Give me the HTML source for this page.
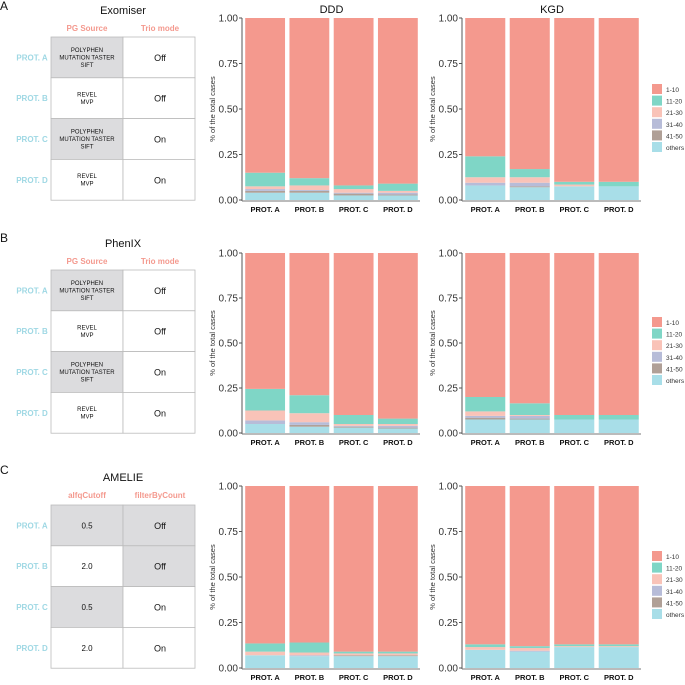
<!DOCTYPE html>
<html><head><meta charset="utf-8">
<style>
body{margin:0;background:#fff;font-family:"Liberation Sans",sans-serif;}
svg text{font-family:"Liberation Sans",sans-serif;}
</style></head>
<body>
<svg id="root" width="685" height="680" viewBox="0 0 685 680" xmlns="http://www.w3.org/2000/svg"></svg>
<script>
const categories = ["PROT. A","PROT. B","PROT. C","PROT. D"];
const seriesNames = ["others","41-50","31-40","21-30","11-20","1-10"];
const legendLabels = ["1-10","11-20","21-30","31-40","41-50","others"];
const yTicks = [0,0.25,0.5,0.75,1.0];
const yTickLabels = ["0.00","0.25","0.50","0.75","1.00"];
// values per bar: [others, 41-50, 31-40, 21-30, 11-20]; 1-10 fills remainder to 1
const exoDDD = [[0.04,0.01,0.01,0.015,0.075],[0.04,0.01,0.005,0.025,0.04],[0.025,0.01,0.005,0.02,0.02],[0.025,0.005,0.01,0.01,0.04]];
const exoKGD = [[0.08,0,0.015,0.03,0.115],[0.07,0.005,0.02,0.03,0.045],[0.075,0,0,0.01,0.015],[0.075,0,0,0,0.025]];
const phenDDD = [[0.05,0,0.02,0.055,0.12],[0.035,0.01,0.015,0.05,0.1],[0.03,0.005,0.005,0.01,0.05],[0.025,0.005,0.01,0.01,0.03]];
const phenKGD = [[0.075,0.01,0.01,0.025,0.08],[0.075,0.005,0.015,0.005,0.065],[0.075,0,0,0,0.025],[0.075,0,0,0,0.025]];
const amDDD = [[0.07,0,0,0.02,0.045],[0.065,0,0.005,0.015,0.055],[0.065,0.005,0,0.01,0.01],[0.065,0.005,0,0.01,0.01]];
const amKGD = [[0.10,0,0,0.015,0.015],[0.09,0,0.005,0.015,0.01],[0.115,0,0,0.005,0.01],[0.115,0,0,0.005,0.01]];
const colors = {"1-10":"#F4998E","11-20":"#7FD6C6","21-30":"#F9C3B8","31-40":"#B7BCD8","41-50":"#B0A097","others":"#A8DEE8"};

const NS="http://www.w3.org/2000/svg";
const root=document.getElementById('root');
function mk(tag,attrs,parent){const e=document.createElementNS(NS,tag);for(const k in attrs)e.setAttribute(k,attrs[k]);(parent||root).appendChild(e);return e;}
function txt(s,x,y,size,fill,anchor,parent,extra){const t=mk('text',Object.assign({x:x,y:y,'font-size':size,fill:fill,'text-anchor':anchor||'middle'},extra||{}),parent);t.textContent=s;return t;}

function chart(name,data,x0,x1,yTop,yBot,title){
  const g=mk('g',{});
  
  
  const yS=v=>yBot-(yBot-yTop)*v;
  const band=(x1-x0)/categories.length;
  const xS=i=>x0+band*i+band*0.05;
  const bw=band*0.9;
  if(title){const tt=txt(title,(x0+x1)/2,13,11,'#111','middle',g);}
  data.forEach((vals,i)=>{
    let cum=0;
    const full=vals.concat([1-vals.reduce((a,b)=>a+b,0)]);
    full.forEach((v,j)=>{
      if(v<=0){return;}
      const r=mk('rect',{x:xS(i),y:yS(cum+v),width:bw,height:yS(cum)-yS(cum+v),fill:colors[seriesNames[j]]},g);
      
      
      cum+=v;
    });
    const cl=txt(categories[i],xS(i)+bw/2,yBot+12,7.5,'#111','middle',g,{'font-weight':'bold'});
    
    
  });
  mk('line',{x1:x0-1,y1:yTop,x2:x0-1,y2:yBot+1,stroke:'#555','stroke-width':1},g);
  mk('line',{x1:x0-1,y1:yBot+1,x2:x1,y2:yBot+1,stroke:'#777','stroke-width':1},g);
  yTicks.forEach((t,k)=>{
    mk('line',{x1:x0-4,y1:yS(t),x2:x0-1,y2:yS(t),stroke:'#555'},g);
    const l=txt(yTickLabels[k],x0-5,yS(t)+3.5,10,'#333','end',g);
    
    
  });
  const cy=(yTop+yBot)/2;
  const at=txt('% of the total cases',x0-28,cy,7.5,'#333','middle',g,{transform:'rotate(-90 '+(x0-28)+' '+cy+')'});
  
  
}

function legend(y0){
  const g=mk('g',{});
  
  
  legendLabels.forEach((l,i)=>{
    const e=mk('g',{},g);
    
    
    mk('rect',{x:652,y:y0+i*11.6,width:10,height:10,fill:colors[l]},e);
    txt(l,666,y0+i*11.6+8,6.5,'#333','start',e);
  });
}

function table(name,letter,ly,title,ty,h1,h2,rows,shade,top){
  const g=mk('g',{});
  
  
  const L=txt(letter,0,ly+10,12,'#111','start',g);
  
  const T=txt(title,123,ty,11,'#111','middle',g);
  
  txt(h1,87,ty+17,8,'#F4998E','middle',g,{'font-weight':'bold'});
  txt(h2,160,ty+17,8,'#F4998E','middle',g,{'font-weight':'bold'});
  const rh=40.8,x0=51,xm=123,x1=195;
  rows.forEach((r,i)=>{
    const y=top+i*rh;
    mk('rect',{x:x0,y:y,width:xm-x0,height:rh,fill:shade[i][0]?'#DCDCDE':'#fff',stroke:'#bbb','stroke-width':0.8},g);
    mk('rect',{x:xm,y:y,width:x1-xm,height:rh,fill:shade[i][1]?'#DCDCDE':'#fff',stroke:'#bbb','stroke-width':0.8},g);
    const rl=txt(categories[i],32,y+rh/2+3,8,'#9FD8E4','middle',g,{'font-weight':'bold'});
    
    const lines=r[0].split('|');
    const fs=lines.length>1?6:8;
    lines.forEach((ln,k)=>txt(ln,87,y+rh/2+fs/2-1+(k-(lines.length-1)/2)*7.5,fs,'#111','middle',g));
    txt(r[1],160,y+rh/2+3.5,9,'#111','middle',g);
  });
}

const pg=[["POLYPHEN|MUTATION TASTER|SIFT","Off"],["REVEL|MVP","Off"],["POLYPHEN|MUTATION TASTER|SIFT","On"],["REVEL|MVP","On"]];
const pgShade=[[1,0],[0,0],[1,0],[0,0]];
table('exomiser-table','A',0,'Exomiser',14,'PG Source','Trio mode',pg,pgShade,37);
table('phenix-table','B',232,'PhenIX',247,'PG Source','Trio mode',pg,pgShade,270);
table('amelie-table','C',464,'AMELIE',481,'alfqCutoff','filterByCount',[["0.5","Off"],["2.0","Off"],["0.5","On"],["2.0","On"]],[[1,1],[0,1],[1,0],[0,0]],505);

chart('exomiser-ddd-chart',exoDDD,243,420,18,200,'DDD');
chart('exomiser-kgd-chart',exoKGD,463,641,18,200,'KGD');
chart('phenix-ddd-chart',phenDDD,243,420,253,433,null);
chart('phenix-kgd-chart',phenKGD,463,641,253,433,null);
chart('amelie-ddd-chart',amDDD,243,420,486,668,null);
chart('amelie-kgd-chart',amKGD,463,641,486,668,null);
legend(84);legend(317);legend(551);
</script>
</body></html>
